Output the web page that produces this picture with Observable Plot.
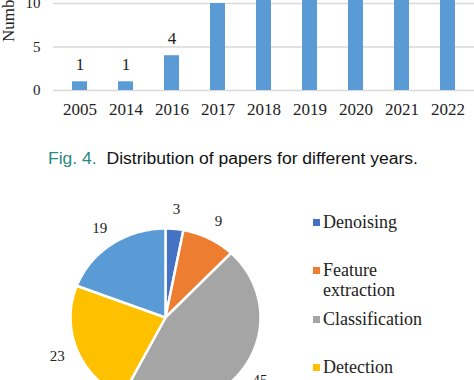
<!DOCTYPE html>
<html><head><meta charset="utf-8">
<script src="https://cdn.jsdelivr.net/npm/d3@7"></script>
<script src="https://cdn.jsdelivr.net/npm/@observablehq/plot@0.6"></script>
<style>
body{margin:0;background:#fff;}
#page{position:relative;width:474px;height:380px;overflow:hidden;background:#fff;}
#bars{position:absolute;left:0;top:-104px;}
#bars text{font-family:"Liberation Serif","Times New Roman",serif !important;}
#ytitle{position:absolute;left:0;top:42px;transform-origin:0 0;transform:rotate(-90deg);font-family:"Liberation Serif","Times New Roman",serif;font-size:17px;line-height:17px;color:#222;white-space:nowrap;}
#caption{position:absolute;left:48px;top:150px;font-family:"Liberation Sans",Arial,sans-serif;font-size:16px;line-height:18px;color:#111;white-space:pre;transform-origin:0 50%;}
#caption .lab{color:#2b8a80;}
#pie{position:absolute;left:0;top:190px;}
.leg{position:absolute;left:313px;display:flex;align-items:flex-start;font-family:"Liberation Serif","Times New Roman",serif;font-size:18px;line-height:20px;color:#222;}
.leg .sw{width:7px;height:7px;margin-top:7px;margin-right:3px;flex:none;}
.leg .tx{width:110px;}
</style></head><body><div id="page"></div>
<script>
const years = ["2005","2014","2016","2017","2018","2019","2020","2021","2022"];
const paperCounts = [1,1,4,10,13,16,18,20,16];
const yTicks = [0,5,10,15,20];
const yTitle = "Number of papers";
const captionLabel = "Fig. 4.";
const captionText = "Distribution of papers for different years.";
const tasks = ["Denoising","Feature extraction","Classification","Detection","Other"];
const taskCounts = [3,9,45,23,19];
const taskColors = ["#4472C4","#ED7D31","#A5A5A5","#FFC000","#5B9BD5"];
const barColor = "#5B9BD5";
const serif = '"Liberation Serif","Times New Roman",serif';

const page = document.getElementById("page");

// ---- bar chart ----
const barData = years.map((y,i)=>({year:y, count:paperCounts[i]}));
const bars = Plot.plot({
  width:474, height:234, marginLeft:53, marginRight:0, marginTop:20, marginBottom:40,
  style:{fontFamily:serif, fontSize:"17px", color:"#222", background:"transparent", overflow:"visible"},
  x:{type:"band", domain:years, paddingInner:0.68, paddingOuter:0.34, label:null},
  y:{domain:[0,20], label:null},
  marks:[
    Plot.gridY(yTicks,{stroke:"#d9d9d9", strokeOpacity:1, strokeWidth:1.5}),
    Plot.barY(barData,{x:"year", y:"count", fill:barColor}),
    Plot.text(barData,{x:"year", y:"count", text:d=>String(d.count), dy:-17, fontSize:17, fill:"#222", fontFamily:serif}),
    Plot.axisX({tickSize:0, tickPadding:12, fontSize:17, fontFamily:serif, fill:"#222", label:null}),
    Plot.axisY(yTicks,{tickSize:0, tickPadding:13, fontSize:15, fontFamily:serif, fill:"#222", label:null})
  ]
});
bars.id = "bars";
bars.querySelectorAll("text").forEach(t => t.style.fontFamily = serif);
page.appendChild(bars);

const yt = document.createElement("div");
yt.id = "ytitle"; yt.textContent = yTitle;
page.appendChild(yt);

// ---- caption ----
const cap = document.createElement("div");
cap.id = "caption";
const lab = document.createElement("span"); lab.className = "lab"; lab.textContent = captionLabel;
cap.appendChild(lab);
cap.appendChild(document.createTextNode("  " + captionText));
page.appendChild(cap);
const capW = cap.getBoundingClientRect().width;
cap.style.transform = "scaleX(" + (370 / capW) + ")";

// ---- pie chart ----
const pieGen = d3.pie().sort(null).startAngle(0).endAngle(2*Math.PI);
const arcs = pieGen(taskCounts);
const slicePts = [];
const labelData = [];
arcs.forEach((a,i)=>{
  slicePts.push({task:tasks[i], x:0, y:0});
  const n = Math.max(2, Math.ceil((a.endAngle-a.startAngle)/0.02));
  for (let k=0;k<=n;k++){
    const t = a.startAngle + (a.endAngle-a.startAngle)*k/n;
    slicePts.push({task:tasks[i], x:Math.sin(t), y:Math.cos(t)});
  }
  slicePts.push({task:tasks[i], x:0, y:0});
  const mid = (a.startAngle + a.endAngle)/2;
  labelData.push({label:String(taskCounts[i]), x:1.22*Math.sin(mid), y:1.22*Math.cos(mid)});
});
const pie = Plot.plot({
  width:300, height:230, margin:0,
  style:{background:"transparent", overflow:"visible"},
  x:{domain:[-165/95, 135/95], axis:null},
  y:{domain:[-(230-127)/89, 127/89], axis:null},
  color:{domain:tasks, range:taskColors},
  marks:[
    Plot.line(slicePts,{x:"x", y:"y", z:"task", fill:"task", stroke:"white", strokeWidth:2.5, strokeLinejoin:"round"}),
    Plot.text(labelData,{x:"x", y:"y", text:"label", fontSize:15, fill:"#222", fontFamily:serif})
  ]
});
pie.id = "pie";
page.appendChild(pie);

// ---- legend ----
tasks.forEach((t,i)=>{
  const item = document.createElement("div");
  item.className = "leg";
  item.style.top = (212 + 48.3*i) + "px";
  const sw = document.createElement("div"); sw.className = "sw"; sw.style.background = taskColors[i];
  const tx = document.createElement("div"); tx.className = "tx"; tx.textContent = t;
  item.appendChild(sw); item.appendChild(tx);
  page.appendChild(item);
});
</script></body></html>
